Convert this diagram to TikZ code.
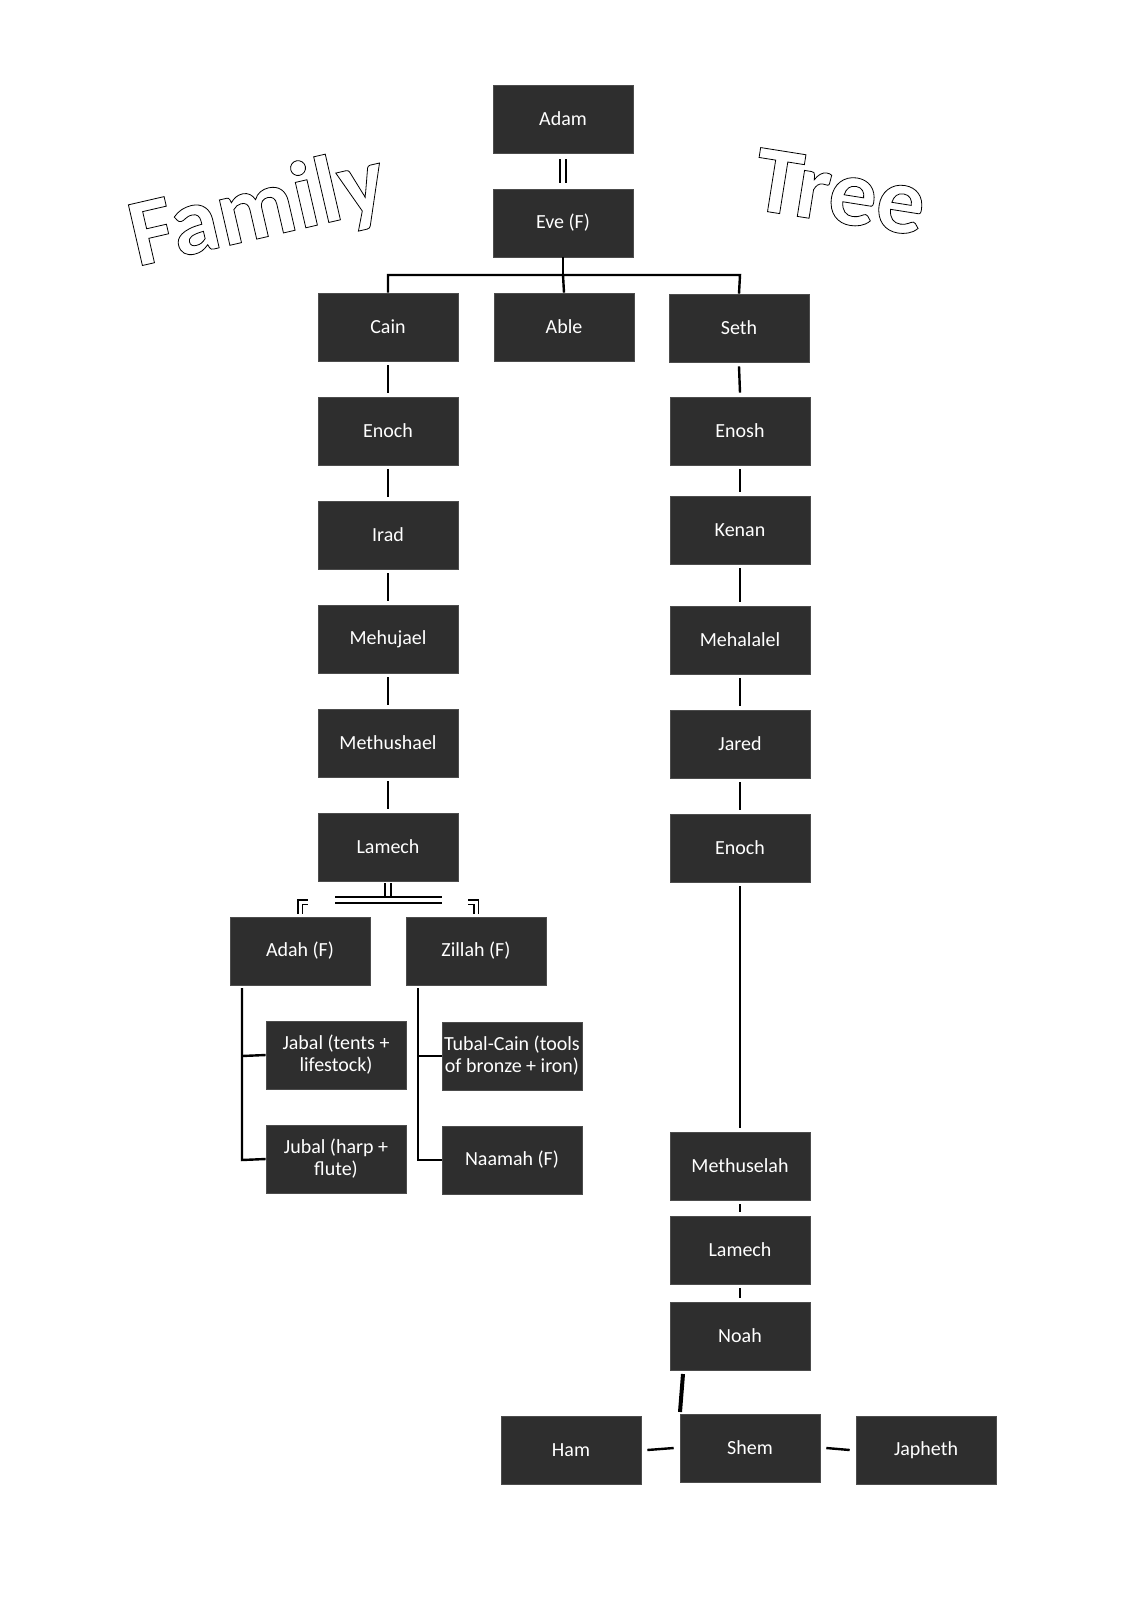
\documentclass[tikz,border=0pt]{standalone}
\usepackage{fontspec}
\setmainfont{Carlito}
\begin{document}
\begin{tikzpicture}[x=0.5pt,y=-0.5pt,
  box/.style={draw=black!70,fill=black!82,text=white,minimum width=70pt,minimum height=34pt,inner sep=1pt,align=center,font=\fontsize{10}{11}\selectfont,line width=0.3pt},
  ln/.style={line width=1.2pt},
  title/.style={font=\fontsize{48}{48}\selectfont\bfseries}]
\useasboundingbox (0,0) rectangle (1133,1600);
\node[box] (adam) at (563,119) {Adam};
\node[box] (eve) at (563,223) {Eve (F)};
\node[box] (cain) at (388,327) {Cain};
\node[box] (able) at (564,327) {Able};
\node[box] (seth) at (739,328) {Seth};
\node[box] (enochA) at (388,431) {Enoch};
\node[box] (irad) at (388,535) {Irad};
\node[box] (mehu) at (388,639) {Mehujael};
\node[box] (methu) at (388,743) {Methushael};
\node[box] (lamechA) at (388,847) {Lamech};
\node[box] (enosh) at (740,431) {Enosh};
\node[box] (kenan) at (740,530) {Kenan};
\node[box] (mehal) at (740,640) {Mehalalel};
\node[box] (jared) at (740,744) {Jared};
\node[box] (enochB) at (740,848) {Enoch};
\node[box] (adah) at (300,951) {Adah (F)};
\node[box] (zillah) at (476,951) {Zillah (F)};
\node[box] (jabal) at (336,1055) {Jabal (tents +\\ lifestock)};
\node[box] (jubal) at (336,1159) {Jubal (harp +\\ flute)};
\node[box] (tubal) at (512,1056) {Tubal-Cain (tools\\of bronze + iron)};
\node[box] (naamah) at (512,1160) {Naamah (F)};
\node[box] (methus) at (740,1166) {Methuselah};
\node[box] (lamechB) at (740,1250) {Lamech};
\node[box] (noah) at (740,1336) {Noah};
\node[box] (ham) at (571,1450) {Ham};
\node[box] (shem) at (750,1448) {Shem};
\node[box] (japheth) at (926,1450) {Japheth};
% Adam = Eve
\draw[double,double distance=2pt,line width=0.8pt] ([yshift=-3pt]adam.south) -- ([yshift=3pt]eve.north);
% Eve children
\coordinate (bar) at (563,275);
\draw[ln] (eve.south) -- (bar);
\draw[ln] (cain.north) -- (388,275) -- (740,275) -- (seth.north);
\draw[ln] (bar) -- (able.north);
% chains
\foreach \a/\b in {cain/enochA,enochA/irad,irad/mehu,mehu/methu,methu/lamechA,
  seth/enosh,enosh/kenan,kenan/mehal,mehal/jared,jared/enochB,enochB/methus,methus/lamechB,lamechB/noah}
  \draw[ln] ([yshift=-2pt]\a.south) -- ([yshift=2pt]\b.north);
% Lamech marriages
\coordinate (lm) at (388,900);
\draw[line width=0.8pt,double,double distance=2pt] ([yshift=-1pt]lamechA.south) -- (lm);
\draw[line width=0.8pt,double,double distance=2pt] (335,900) -- (442,900);
\draw[line width=0.8pt,double,double distance=1.5pt] (300,914) -- (300,902) -- (308,902);
\draw[line width=0.8pt,double,double distance=1.5pt] (476,914) -- (476,902) -- (468,902);
% Adah children
\draw[ln] (242,988) -- (242,1160) -- (jubal.west);
\draw[ln] (242,1056) -- (jabal.west);
\draw[ln] (418,988) -- (418,1160) -- (naamah.west);
\draw[ln] (418,1056) -- (tubal.west);
% Noah sons
\draw[line width=2pt] (683,1374) -- (680,1412);
\draw[ln] ([xshift=3pt]ham.east) -- ([xshift=-3pt]shem.west);
\draw[ln] ([xshift=3pt]shem.east) -- ([xshift=-3pt]japheth.west);
% titles
\node[title,rotate=13] (fam) at (258,212) {\special{pdf:literal direct 1 Tr 0.4 w}Family\special{pdf:literal direct 0 Tr}};
\node[title,rotate=-9] (tree) at (840,192) {\special{pdf:literal direct 1 Tr 0.4 w}Tree\special{pdf:literal direct 0 Tr}};
\end{tikzpicture}
\end{document}
